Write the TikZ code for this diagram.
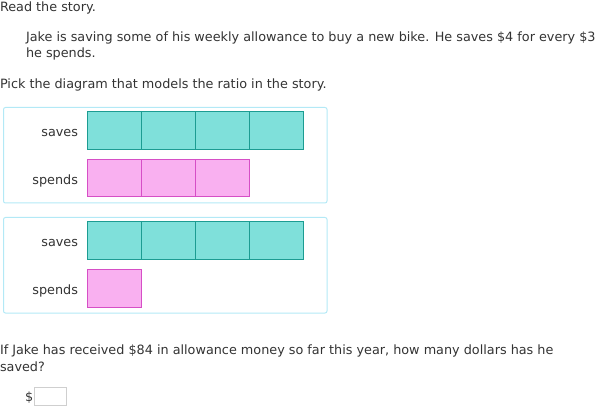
\documentclass[tikz,border=0pt]{standalone}
\usepackage{fontspec}
\setmainfont{DejaVu Sans}
\usepackage{tikz}
\usetikzlibrary{positioning}
\definecolor{ink}{HTML}{333333}
\definecolor{savefill}{HTML}{7FE0DA}
\definecolor{saveline}{HTML}{1C9C92}
\definecolor{spendfill}{HTML}{F9B0F0}
\definecolor{spendline}{HTML}{D64FC6}
\definecolor{panelline}{HTML}{B3E9F6}
\definecolor{fieldline}{HTML}{CFCFCF}
\newcommand{\txt}{\fontsize{12.8}{15}\selectfont}
\newcommand{\barrow}[4]{% row of cells: name, count, top y, style
  \foreach \i in {1,...,#2} {
    \node[#4, anchor=north west] (#1\i) at ({87+(\i-1)*54}, #3) {};
  }
}

\begin{document}
\begin{tikzpicture}[x=1pt,y=-1pt,
    every node/.style={text=ink, font=\txt, inner sep=0pt, outer sep=0pt},
    line/.style={anchor=base west},
    panel/.style={draw=panelline, line width=1pt, rounded corners=2pt},
    savecell/.style={draw=saveline, fill=savefill, line width=1pt, minimum width=54pt, minimum height=38pt},
    spendcell/.style={draw=spendline, fill=spendfill, line width=1pt, minimum width=54pt, minimum height=37pt},
    lbl/.style={anchor=east, yshift=-2pt}]
  \useasboundingbox (0,0) rectangle (600,406);

  % story
  \node[line] (read) at (0,12) {Read the story.};
  \node[line] (story1) at (26,42) {Jake is saving some of his weekly allowance to buy a new bike. He saves \$4 for every \$3};
  \node[line] (story2) at (26,58) {he spends.};
  \node[line] (pick) at (0,89) {Pick the diagram that models the ratio in the story.};

  % first choice
  \draw[panel] (3.5,107.5) rectangle (327,203);
  \barrow{sa}{4}{112}{savecell}
  \barrow{sp}{3}{160}{spendcell}
  \node[lbl, left=9pt of sa1] (savesA) {saves};
  \node[lbl, left=9pt of sp1] (spendsA) {spends};

  % second choice
  \draw[panel] (3.5,217.5) rectangle (327,313);
  \barrow{sb}{4}{222}{savecell}
  \barrow{sq}{1}{270}{spendcell}
  \node[lbl, left=9pt of sb1] (savesB) {saves};
  \node[lbl, left=9pt of sq1] (spendsB) {spends};

  % question
  \node[line] (ask1) at (0,354) {If Jake has received \$84 in allowance money so far this year, how many dollars has he};
  \node[line] (ask2) at (0,371) {saved?};
  \node[line] (dollar) at (25,401) {\$};
  \node[draw=fieldline, line width=0.8pt, minimum width=32pt, minimum height=18pt, anchor=north west] (answer) at (34.5,387.5) {};
\end{tikzpicture}
\end{document}
